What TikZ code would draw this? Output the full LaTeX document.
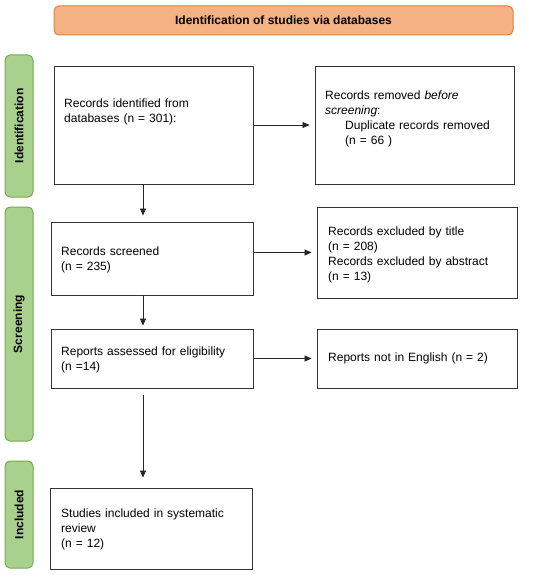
\documentclass[tikz,border=0pt]{standalone}
\usepackage{fontspec}
\setmainfont{Liberation Sans}
\usetikzlibrary{arrows.meta}
\definecolor{bannerfill}{HTML}{F4B183}
\definecolor{bannerdraw}{HTML}{E0803E}
\definecolor{barfill}{HTML}{A9D18E}
\definecolor{bardraw}{HTML}{76A955}
\definecolor{boxdraw}{HTML}{333333}
\tikzset{
  box/.style={draw=boxdraw, line width=0.9pt, rectangle, inner sep=0pt, fill=white},
  txt/.style={anchor=north west, inner sep=0pt, align=left, text width=190pt, font=\fontsize{12}{15}\selectfont},
  bar/.style={draw=bardraw, fill=barfill, line width=1pt, rounded corners=5pt, minimum width=28pt, inner sep=0pt},
  barlabel/.style={rotate=90, font=\fontsize{12}{14}\selectfont\bfseries, inner sep=0pt},
  banner/.style={draw=bannerdraw, fill=bannerfill, line width=1pt, rounded corners=5pt, inner sep=0pt, font=\fontsize{12}{14}\selectfont\bfseries},
  arr/.style={-{Triangle[length=7pt,width=6pt]}, line width=0.7pt, draw=black!85}
}
\begin{document}
\begin{tikzpicture}[x=1pt,y=-1pt]
\useasboundingbox (0,0) rectangle (550,575);
% banner
\node[banner, minimum width=459pt, minimum height=29pt] (banner) at (283.5,20.5) {Identification of studies via databases};
% side bars
\node[bar, minimum height=142pt] (bar1) at (19,126) {};
\node[barlabel] (lab1) at (bar1.center) {Identification};
\node[bar, minimum height=234pt] (bar2) at (19,324) {};
\node[barlabel] (lab2) at (bar2.center) {Screening};
\node[bar, minimum height=107pt] (bar3) at (19,514.5) {};
\node[barlabel] (lab3) at (bar3.center) {Included};
% boxes
\node[box, minimum width=199pt, minimum height=118pt] (box1) at (153.5,125) {};
\node[box, minimum width=199pt, minimum height=118pt] (box2) at (414.5,125) {};
\node[box, minimum width=202pt, minimum height=73pt] (box3) at (152,258.5) {};
\node[box, minimum width=200pt, minimum height=91pt] (box4) at (417,252.5) {};
\node[box, minimum width=202pt, minimum height=59pt] (box5) at (152,358.5) {};
\node[box, minimum width=200pt, minimum height=59pt] (box6) at (417,358.5) {};
\node[box, minimum width=202pt, minimum height=81pt] (box7) at (151,528.5) {};
% texts
\node[txt] (t1) at (64,99) {Records identified from\\databases (n = 301):};
\node[txt] (t2) at (325,91) {Records removed \textit{before}\\\textit{screening}:\\\hspace*{20pt}Duplicate records removed\\\hspace*{20pt}(n = 66 )};
\node[txt] (t3) at (61,247) {Records screened\\(n = 235)};
\node[txt] (t4) at (328,227) {Records excluded by title\\(n = 208)\\Records excluded by abstract\\(n = 13)};
\node[txt] (t5) at (61,347) {Reports assessed for eligibility\\(n =14)};
\node[txt] (t6) at (328,353) {Reports not in English (n = 2)};
\node[txt] (t7) at (61,509) {Studies included in systematic\\review\\(n = 12)};
% arrows
\coordinate (ax) at (143,0);
\draw[arr, shorten >=5pt] (box1.east) -- (box2.west);
\draw[arr, shorten >=5pt] (box3.east |- box4.west) -- (box4.west);
\draw[arr, shorten >=5pt] (box5.east) -- (box6.west);
\draw[arr, shorten >=6pt] (ax |- box1.south) -- (ax |- box3.north);
\draw[arr, shorten >=3pt] (ax |- box3.south) -- (ax |- box5.north);
\draw[arr, shorten <=7pt, shorten >=10pt] (ax |- box5.south) -- (ax |- box7.north);
\end{tikzpicture}
\end{document}
